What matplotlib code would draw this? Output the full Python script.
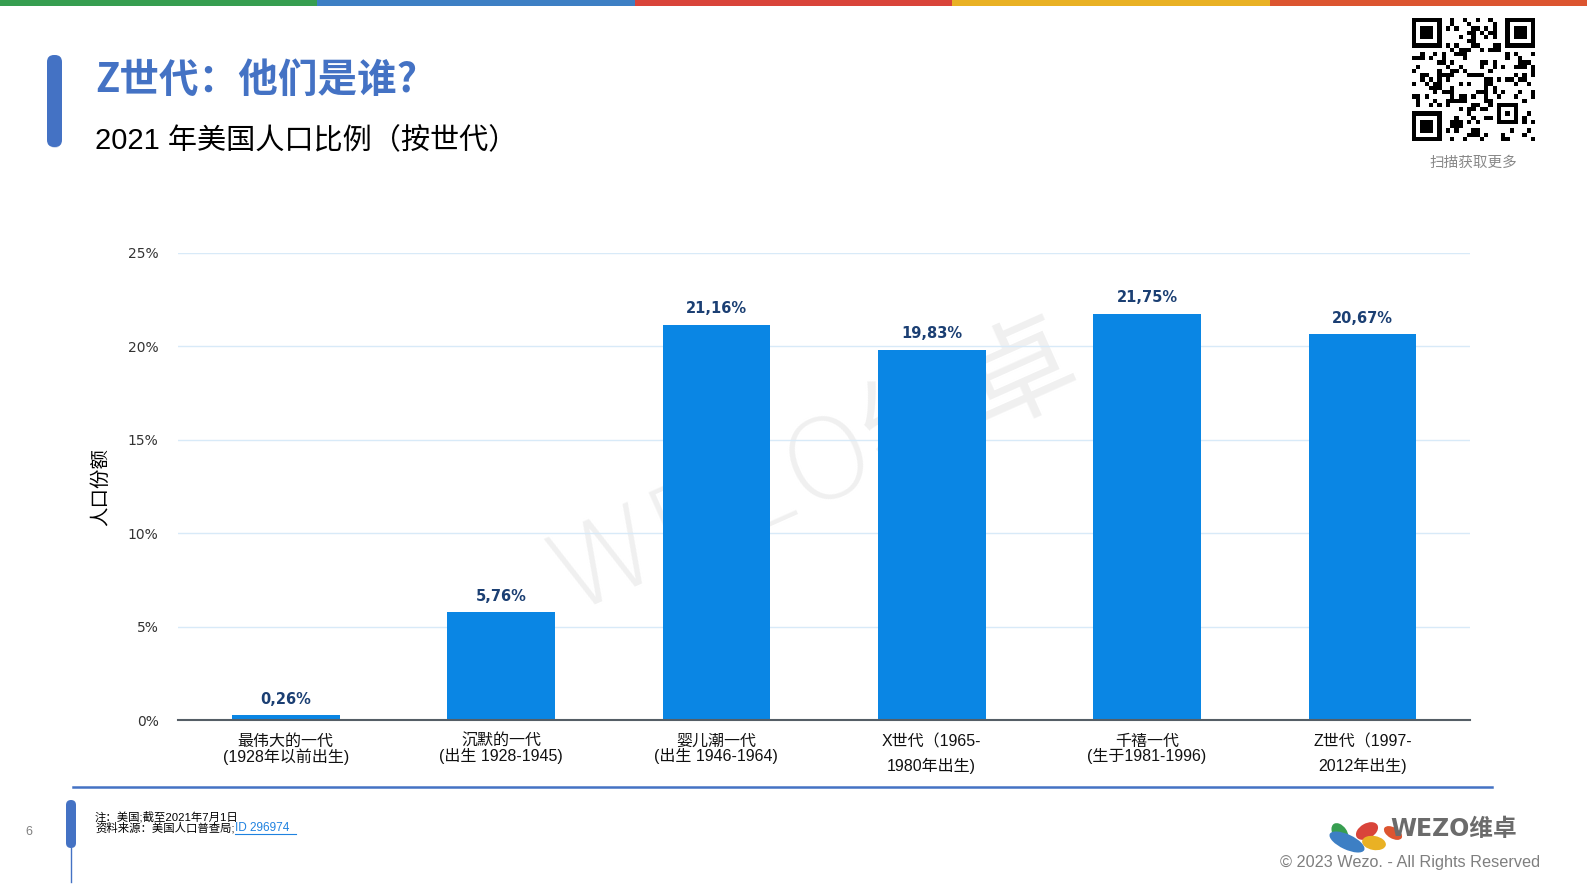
import numpy as np
import matplotlib
matplotlib.use("Agg")
import matplotlib.pyplot as plt
from matplotlib.patches import FancyBboxPatch, Ellipse, Rectangle

plt.rcParams['font.family'] = ['Liberation Sans', 'Noto Sans CJK SC', 'DejaVu Sans']

# data
categories = ["最伟大的一代\n(1928年以前出生)",
              "沉默的一代\n(出生 1928-1945)",
              "婴儿潮一代\n(出生 1946-1964)",
              "X世代（1965-\n1980年出生)",
              "千禧一代\n(生于1981-1996)",
              "Z世代（1997-\n2012年出生)"]
shares = [0.26, 5.76, 21.16, 19.83, 21.75, 20.67]
label_spacing = [0.95, 0.95, 0.95, 1.7, 0.95, 1.7]
y_ticks = [0, 5, 10, 15, 20, 25]

W, H = 1587, 892
fig = plt.figure(figsize=(W / 100, H / 100), dpi=100)
fig.patch.set_facecolor('white')

# background / decoration layer in pixel coordinates
bg = fig.add_axes([0, 0, 1, 1], zorder=0)
bg.set_xlim(0, W)
bg.set_ylim(H, 0)
bg.axis('off')

# top colour strip
strip_colors = ['#379E50', '#3D7FC4', '#D9443A', '#E9B124', '#DC5530']
for i, c in enumerate(strip_colors):
    bg.add_patch(Rectangle((i * W / 5, 0), W / 5, 6, color=c, lw=0))

# title marker bar
bg.add_patch(FancyBboxPatch((50, 58), 10, 90, boxstyle="round,pad=0,rounding_size=5",
                            color='#D5DCEB', lw=0))
bg.add_patch(FancyBboxPatch((47, 55), 15, 92, boxstyle="round,pad=0,rounding_size=7",
                            color='#4472C4', lw=0))
bg.text(95, 80, "Z世代：他们是谁?", fontsize=28.5, fontweight='bold', color='#4472C4',
        va='center', ha='left', family=['Noto Sans CJK SC', 'DejaVu Sans'])
bg.text(95, 141, "2021 年美国人口比例（按世代）", fontsize=21, color='black',
        va='center', ha='left')

# watermark
bg.text(815, 470, "WEZO维卓", fontsize=80, color='#F0F0F0', rotation=24,
        ha='center', va='center', family=['DejaVu Sans', 'Noto Sans CJK SC'],
        fontweight='light')

# QR code-ish block
n = 29
qr = np.zeros((n, n))
ii, jj = np.mgrid[0:n, 0:n]
qr[((ii * 7 + jj * 13) ^ (ii * jj)) % 3 == 0] = 1
def finder(r, c, size=7):
    qr[r:r + size, c:c + size] = 1
    qr[r + 1:r + size - 1, c + 1:c + size - 1] = 0
    qr[r + 2:r + size - 2, c + 2:c + size - 2] = 1
for r, c in [(0, 0), (0, n - 7), (n - 7, 0)]:
    qr[max(r - 1, 0):r + 8, max(c - 1, 0):c + 8] = 0
    finder(r, c)
qr[19:26, 19:26] = 0
finder(20, 20, 5)
bg.imshow(1 - qr, cmap='gray', extent=(1412, 1535, 141, 18), interpolation='nearest',
          vmin=0, vmax=1, aspect='auto')
bg.set_xlim(0, W)
bg.set_ylim(H, 0)
bg.text(1473, 163, "扫描获取更多", fontsize=10.5, color='#888888', ha='center', va='center')

# bottom separator and footer
bg.plot([73, 1492], [787, 787], color='#4472C4', lw=1.8)
bg.add_patch(FancyBboxPatch((66, 800), 10, 48, boxstyle="round,pad=0,rounding_size=5",
                            color='#4472C4', lw=0))
bg.plot([71, 71], [848, 882], color='#4472C4', lw=1)
bg.text(29, 832, "6", fontsize=9, color='#808080', ha='center', va='center')
bg.text(95, 817, "注：美国;截至2021年7月1日", fontsize=8.2, color='black', va='center')
bg.text(95, 828, "资料来源：美国人口普查局;", fontsize=8.2, color='black', va='center')
bg.text(235, 828, "ID 296974", fontsize=8.5, color='#1F82E0', va='center')
bg.plot([235, 296], [834, 834], color='#1F82E0', lw=0.8)

# logo
logo = [((1340, 833), 14, 22, -35, '#379E50'),
        ((1347, 842), 38, 15, 25, '#3D7FC4'),
        ((1367, 831), 24, 15, -30, '#D9443A'),
        ((1374, 843), 24, 14, 10, '#E9B124'),
        ((1393, 833), 20, 11, 30, '#DC5530')]
for xy, w, h, ang, c in logo:
    bg.add_patch(Ellipse(xy, w, h, angle=ang, color=c, lw=0))
bg.text(1390, 829, "WEZO维卓", fontsize=17, fontweight='bold', color='#6B6B6B',
        ha='left', va='center', family=['DejaVu Sans', 'Noto Sans CJK SC'])
bg.text(1540, 863, "© 2023 Wezo. - All Rights Reserved", fontsize=11.7, color='#7F7F7F',
        ha='right', va='center')

# chart
ax = fig.add_axes([178 / W, 1 - 720 / H, (1470 - 178) / W, (720 - 253) / H], zorder=1)
ax.patch.set_alpha(0)
x = np.arange(len(categories))
bars = ax.bar(x, shares, width=0.5, color='#0A86E4', zorder=2)
for b, v in zip(bars, shares):
    ax.annotate(f"{v:.2f}".replace('.', ',') + '%', (b.get_x() + b.get_width() / 2, v),
                xytext=(0, 6), textcoords='offset points', ha='center', va='bottom',
                fontsize=10.5, fontweight='bold', color='#1B3F73',
                family=['DejaVu Sans'])

ax.set_xlim(-0.5, len(categories) - 0.5)
ax.set_ylim(0, 25)
ax.set_yticks(y_ticks)
ax.set_yticklabels([f"{t}%" for t in y_ticks], fontsize=10, color='#333333',
                   family=['DejaVu Sans'])
ax.yaxis.grid(True, color='#D8EAF8', lw=1, zorder=0)
ax.set_axisbelow(True)
ax.set_xticks(x)
ax.set_xticklabels(categories, fontsize=11.5, color='#111111')
for lbl, ls in zip(ax.get_xticklabels(), label_spacing):
    lbl.set_linespacing(ls)
ax.tick_params(axis='both', length=0)
ax.tick_params(axis='y', pad=14)
ax.tick_params(axis='x', pad=10)
for s in ['top', 'right', 'left']:
    ax.spines[s].set_visible(False)
ax.spines['bottom'].set_color('#555E66')
ax.spines['bottom'].set_linewidth(1.5)
ax.set_ylabel("人口份额", fontsize=14, color='black', labelpad=13)

fig.savefig("out.png", dpi=100)
